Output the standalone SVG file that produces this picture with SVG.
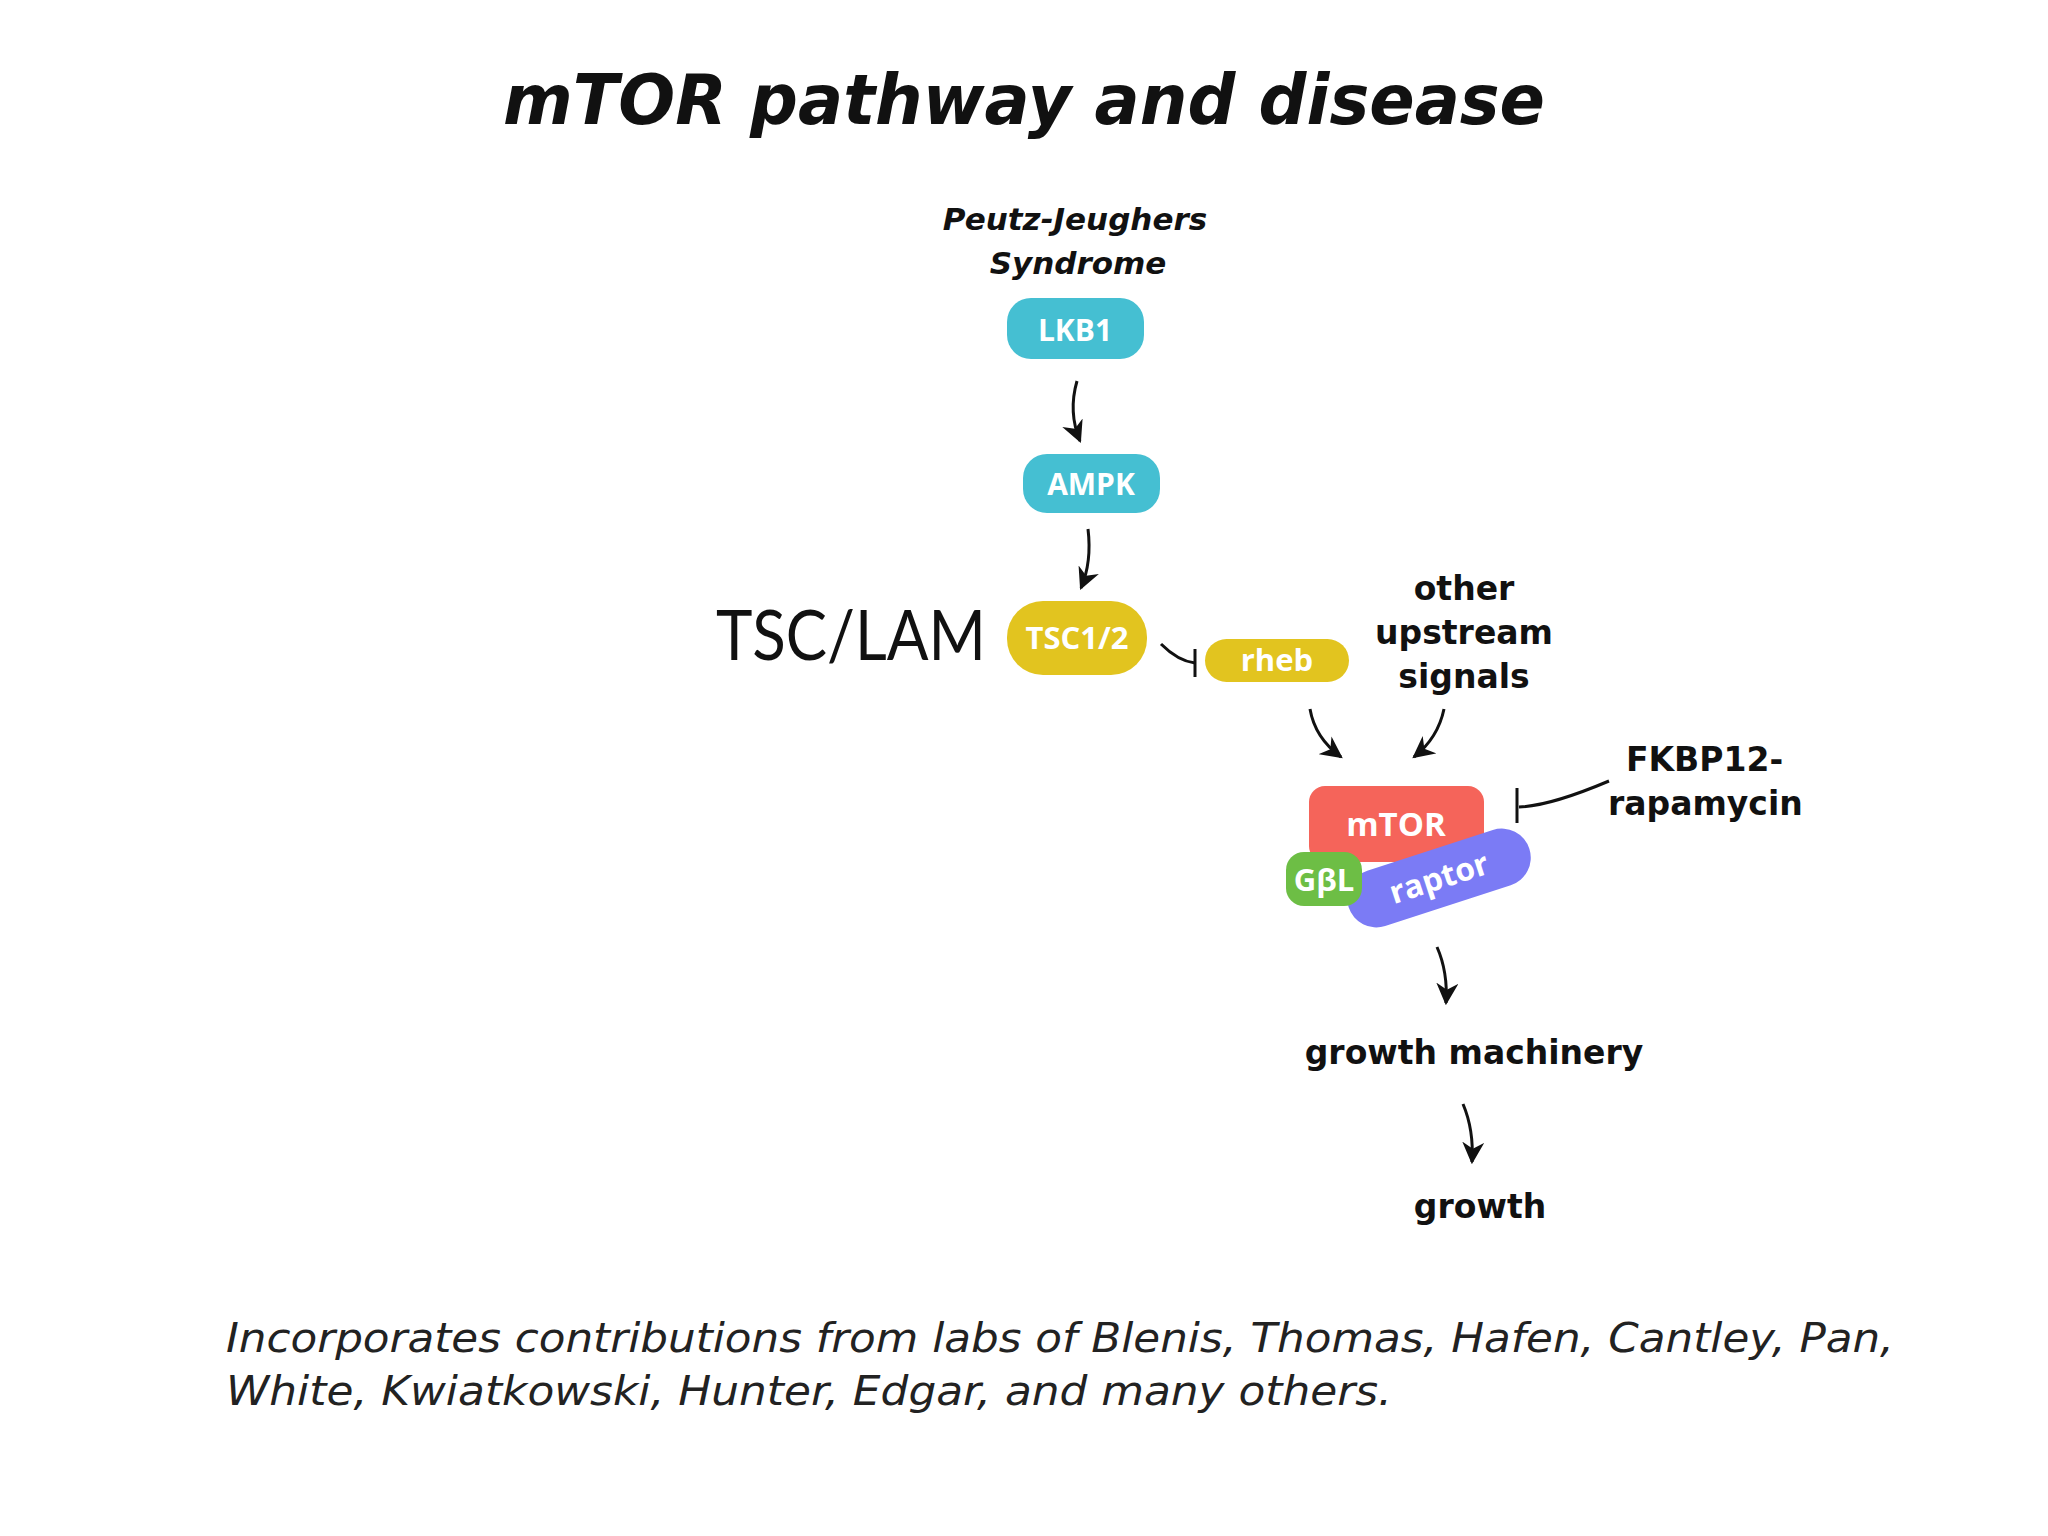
<svg xmlns="http://www.w3.org/2000/svg" width="2048" height="1536" viewBox="0 0 2048 1536">
<style>
.t{font-family:"DejaVu Sans","Noto Sans",sans-serif;font-weight:bold;fill:#111}
.w{font-family:"Open Sans","DejaVu Sans",sans-serif;font-weight:bold;fill:#fff;text-anchor:middle}
.c{fill:none;stroke:#111;stroke-width:3}
</style>
<defs>
<marker id="ah" viewBox="0 0 20 20" refX="18" refY="10" markerWidth="22" markerHeight="22" markerUnits="userSpaceOnUse" orient="auto">
<path d="M0,0 L20,10 L0,20 L6,10 Z" fill="#111"/>
</marker>
</defs>
<rect width="2048" height="1536" fill="#fff"/>
<text x="1024" y="124" class="t" font-size="70" font-style="italic" text-anchor="middle" textLength="1042" lengthAdjust="spacingAndGlyphs">mTOR pathway and disease</text>
<g id="pjs"><text class="t" font-size="31" font-style="italic" text-anchor="middle" x="1075" y="230">Peutz-Jeughers</text><text class="t" font-size="31" font-style="italic" text-anchor="middle" x="1078" y="274">Syndrome</text></g>
<g id="lkb1"><rect x="1007" y="298" width="137" height="61" rx="24" fill="#45BFD2"/><text class="w" x="1075" y="341" font-size="30">LKB1</text></g>
<g id="ampk"><rect x="1023" y="454" width="137" height="59" rx="24" fill="#45BFD2"/><text class="w" x="1091" y="495" font-size="30">AMPK</text></g>
<g id="tsclam"><text x="716" y="660" font-family="Lato,'Liberation Sans',sans-serif" font-size="70" fill="#111" textLength="270" lengthAdjust="spacingAndGlyphs">TSC/LAM</text></g>
<g id="tsc"><rect x="1007" y="601" width="140" height="74" rx="36" fill="#E2C41F"/><text class="w" x="1077" y="649" font-size="31">TSC1/2</text></g>
<g id="rheb"><rect x="1205" y="639" width="144" height="43" rx="21.5" fill="#E2C41F"/><text class="w" x="1277" y="671" font-size="31">rheb</text></g>
<g id="other"><text class="t" font-size="33" text-anchor="middle" x="1464" y="600">other</text><text class="t" font-size="33" text-anchor="middle" x="1464" y="644">upstream</text><text class="t" font-size="33" text-anchor="middle" x="1464" y="688">signals</text></g>
<g id="fkbp"><text class="t" font-size="33" x="1626" y="771">FKBP12-</text><text class="t" font-size="33" x="1608" y="815">rapamycin</text></g>
<g id="mtor"><rect x="1309" y="786" width="175" height="76" rx="16" fill="#F5645A"/><text class="w" x="1396" y="836" font-size="33">mTOR</text></g>
<g id="raptor"><g transform="translate(1439,878) rotate(-18)"><rect x="-95" y="-29" width="190" height="58" rx="29" fill="#7B7BF5"/><text class="w" x="0" y="11" font-size="32">raptor</text></g></g>
<g id="gbl"><rect x="1286" y="852" width="76" height="54" rx="18" fill="#6DBE45"/><text class="w" x="1324" y="891" font-size="31">GβL</text></g>
<g id="gm"><text class="t" font-size="33" text-anchor="middle" x="1474" y="1064">growth machinery</text></g>
<g id="growth"><text class="t" font-size="33" text-anchor="middle" x="1480" y="1218">growth</text></g>
<g id="connectors">
<path class="c" d="M1077,381 Q1068,412 1080,441" marker-end="url(#ah)"/>
<path class="c" d="M1088,529 Q1092,562 1081,588" marker-end="url(#ah)"/>
<path class="c" d="M1161,644 Q1178,661 1195,663"/><line class="c" x1="1195" y1="649" x2="1195" y2="677"/>
<path class="c" d="M1310,709 Q1315,738 1341,757" marker-end="url(#ah)"/>
<path class="c" d="M1444,709 Q1438,738 1414,757" marker-end="url(#ah)"/>
<path class="c" d="M1609,781 Q1550,806 1519,807"/><line class="c" x1="1517" y1="788" x2="1517" y2="823"/>
<path class="c" d="M1437,947 Q1448,972 1446,1003" marker-end="url(#ah)"/>
<path class="c" d="M1463,1104 Q1474,1130 1472,1162" marker-end="url(#ah)"/>
</g>
<g id="footer" font-family="'DejaVu Sans',sans-serif" font-style="italic" font-size="40" fill="#222">
<text x="226" y="1352" textLength="1668" lengthAdjust="spacingAndGlyphs">Incorporates contributions from labs of Blenis, Thomas, Hafen, Cantley, Pan,</text>
<text x="226" y="1405" textLength="1166" lengthAdjust="spacingAndGlyphs">White, Kwiatkowski, Hunter, Edgar, and many others.</text>
</g>
</svg>
